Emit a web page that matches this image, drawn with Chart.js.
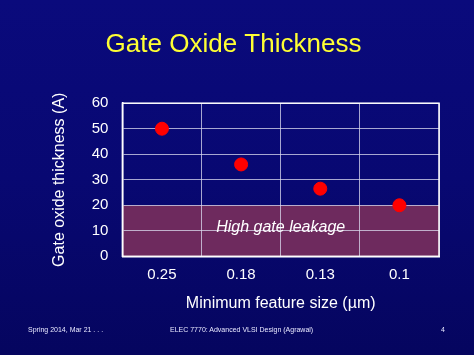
<!DOCTYPE html>
<html>
<head>
<meta charset="utf-8">
<script src="https://cdn.jsdelivr.net/npm/chart.js@4/dist/chart.umd.min.js"></script>
<style>
  html, body { margin: 0; padding: 0; }
  body {
    width: 474px; height: 355px; overflow: hidden; position: relative;
    background: linear-gradient(to bottom, #0a0a7c 0%, #080872 50%, #05055f 100%);
    font-family: "Liberation Sans", Arial, sans-serif;
  }
  #c { position: absolute; left: 0; top: 0; }
  .foot { position: absolute; top: 326px; color: #e8e8ff; font-size: 7px; white-space: nowrap; }
</style>
</head>
<body>
<canvas id="c" width="474" height="355"></canvas>
<div class="foot" style="left:28px">Spring 2014, Mar 21 . . .</div>
<div class="foot" style="left:170px">ELEC 7770: Advanced VLSI Design (Agrawal)</div>
<div class="foot" style="left:441px">4</div>
<script>
const categories = ['0.25', '0.18', '0.13', '0.1'];
const oxideThickness = [50, 36, 26.5, 20];
const leakageZone = [0, 20];
const leakageLabel = ['High gate leakage'];
const leakageLabelPos = [1.5, 11.4];
const yTicks = [0, 10, 20, 30, 40, 50, 60];

const zonePlugin = {
  id: 'zone',
  beforeDraw(chart) {
    const { ctx, chartArea, scales } = chart;
    const y0 = scales.y.getPixelForValue(leakageZone[0]);
    const y1 = scales.y.getPixelForValue(leakageZone[1]);
    ctx.save();
    ctx.fillStyle = '#6e2a5e';
    ctx.fillRect(chartArea.left, y1, chartArea.right - chartArea.left, y0 - y1);
    ctx.restore();
  },
  afterDatasetsDraw(chart) {
    const { ctx, chartArea, scales } = chart;
    const xa = scales.x.getPixelForValue(Math.floor(leakageLabelPos[0]));
    const xb = scales.x.getPixelForValue(Math.ceil(leakageLabelPos[0]));
    const x = xa + (xb - xa) * (leakageLabelPos[0] - Math.floor(leakageLabelPos[0]));
    const y = scales.y.getPixelForValue(leakageLabelPos[1]);
    ctx.save();
    ctx.fillStyle = '#ffffff';
    ctx.font = 'italic 16px "Liberation Sans", Arial, sans-serif';
    ctx.textAlign = 'center';
    ctx.textBaseline = 'middle';
    ctx.fillText(leakageLabel[0], x, y);
    ctx.strokeStyle = '#ffffff';
    ctx.lineWidth = 1.5;
    ctx.strokeRect(chartArea.left, chartArea.top, chartArea.right - chartArea.left, chartArea.bottom - chartArea.top);
    ctx.restore();
  }
};

new Chart(document.getElementById('c'), {
  type: 'line',
  data: {
    labels: categories,
    datasets: [{
      data: oxideThickness,
      showLine: false,
      pointRadius: 6.5,
      pointHoverRadius: 6.5,
      pointBackgroundColor: '#ff0000',
      pointBorderColor: '#ff0000',
      borderColor: '#ff0000',
      backgroundColor: '#ff0000'
    }]
  },
  options: {
    responsive: false,
    devicePixelRatio: 1,
    animation: false,
    events: [],
    layout: { padding: { left: 28, right: 35, top: 0, bottom: 41.5 } },
    plugins: {
      legend: { display: false },
      tooltip: { enabled: false },
      title: {
        display: true,
        text: 'Gate Oxide Thickness',
        color: '#ffff33',
        font: { family: '"Liberation Sans", Arial, sans-serif', size: 26, weight: 'normal' },
        padding: { top: 29, bottom: 43 }
      }
    },
    scales: {
      x: {
        type: 'category',
        offset: true,
        grid: { offset: true, color: 'rgba(220,220,240,0.75)', lineWidth: 1, drawTicks: false },
        border: { color: '#ffffff', width: 1.5 },
        ticks: { color: '#ffffff', padding: 10, font: { family: '"Liberation Sans", Arial, sans-serif', size: 15 } },
        title: {
          display: true,
          text: 'Minimum feature size (µm)',
          color: '#ffffff',
          font: { family: '"Liberation Sans", Arial, sans-serif', size: 16 },
          padding: { top: 0, bottom: 0 }
        }
      },
      y: {
        min: yTicks[0],
        max: yTicks[yTicks.length - 1],
        afterBuildTicks(scale) { scale.ticks = yTicks.map(v => ({ value: v })); },
        grid: { color: 'rgba(220,220,240,0.75)', lineWidth: 1, drawTicks: false },
        border: { color: '#ffffff', width: 1.5 },
        ticks: { color: '#ffffff', padding: 14, font: { family: '"Liberation Sans", Arial, sans-serif', size: 15 } },
        title: {
          display: true,
          text: 'Gate oxide thickness (A)',
          color: '#ffffff',
          font: { family: '"Liberation Sans", Arial, sans-serif', size: 16 },
          padding: { top: 22, bottom: 8.5 }
        }
      }
    }
  },
  plugins: [zonePlugin]
});
</script>
</body>
</html>
